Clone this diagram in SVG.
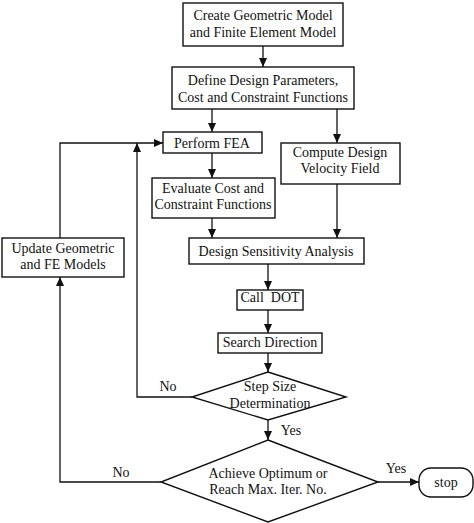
<svg xmlns="http://www.w3.org/2000/svg" width="474" height="523" viewBox="0 0 474 523">
<style>
.b{fill:#fff;stroke:#111;stroke-width:1.4}
.c{fill:none;stroke:#111;stroke-width:1.3}
text{font-family:"Liberation Serif","Times New Roman",serif;font-size:14px;fill:#111;text-anchor:middle}
</style>
<defs>
<marker id="a" markerWidth="10" markerHeight="8" refX="9" refY="4" orient="auto" markerUnits="userSpaceOnUse">
<path d="M0,0 L9,4 L0,8 Z" fill="#111"/>
</marker>
</defs>
<rect width="474" height="523" fill="#fff"/>
<g id="connectors">
<path class="c" d="M263,46 V67" marker-end="url(#a)"/>
<path class="c" d="M212,109 V132" marker-end="url(#a)"/>
<path class="c" d="M337,109 V143" marker-end="url(#a)"/>
<path class="c" d="M212,153 V178" marker-end="url(#a)"/>
<path class="c" d="M212,218 V238" marker-end="url(#a)"/>
<path class="c" d="M337,184 V238" marker-end="url(#a)"/>
<path class="c" d="M268,264 V290" marker-end="url(#a)"/>
<path class="c" d="M268,310 V333" marker-end="url(#a)"/>
<path class="c" d="M268,353 V372" marker-end="url(#a)"/>
<path class="c" d="M268,420 V440" marker-end="url(#a)"/>
<path class="c" d="M192,397 H137 V143" marker-end="url(#a)"/>
<path class="c" d="M60,238 V143 H163" marker-end="url(#a)"/>
<path class="c" d="M161,482 H60 V277" marker-end="url(#a)"/>
<path class="c" d="M378,482 H419" marker-end="url(#a)"/>
<text x="168" y="391">No</text>
<text x="291" y="435">Yes</text>
<text x="121" y="477">No</text>
<text x="396" y="473">Yes</text>
</g>
<g id="n1"><rect class="b" x="183" y="3" width="160" height="43"/>
<text x="263" y="20">Create Geometric Model</text><text x="263" y="37">and Finite Element Model</text></g>
<g id="n2"><rect class="b" x="172" y="67" width="182" height="42"/>
<text x="263" y="85">Define Design Parameters,</text><text x="263" y="102">Cost and Constraint Functions</text></g>
<g id="n3"><rect class="b" x="163" y="132" width="99" height="21"/>
<text x="212" y="148">Perform FEA</text></g>
<g id="n4"><rect class="b" x="281" y="143" width="119" height="41"/>
<text x="340" y="157">Compute Design</text><text x="340" y="173">Velocity Field</text></g>
<g id="n5"><rect class="b" x="152" y="178" width="123" height="40"/>
<text x="213" y="193">Evaluate Cost and</text><text x="213" y="209">Constraint Functions</text></g>
<g id="n6"><rect class="b" x="189" y="238" width="175" height="26"/>
<text x="276" y="256">Design Sensitivity Analysis</text></g>
<g id="n7"><rect class="b" x="2" y="238" width="122" height="39"/>
<text x="63" y="253">Update Geometric</text><text x="63" y="269">and FE Models</text></g>
<g id="n8"><rect class="b" x="237" y="290" width="66" height="20"/>
<text x="270" y="302" xml:space="preserve">Call  DOT</text></g>
<g id="n9"><rect class="b" x="218" y="333" width="104" height="20"/>
<text x="270" y="347">Search Direction</text></g>
<g id="n10"><path class="b" d="M268,372 L346,397 L268,420 L192,397 Z"/>
<text x="270" y="391">Step Size</text><text x="270" y="408">Determination</text></g>
<g id="n11"><path class="b" d="M268,440 L378,482 L268,522 L161,482 Z"/>
<text x="268" y="478">Achieve Optimum or</text><text x="268" y="494">Reach Max. Iter. No.</text></g>
<g id="n12"><rect class="b" x="419" y="468" width="54" height="29" rx="12"/>
<text x="446" y="487">stop</text></g>
</svg>
